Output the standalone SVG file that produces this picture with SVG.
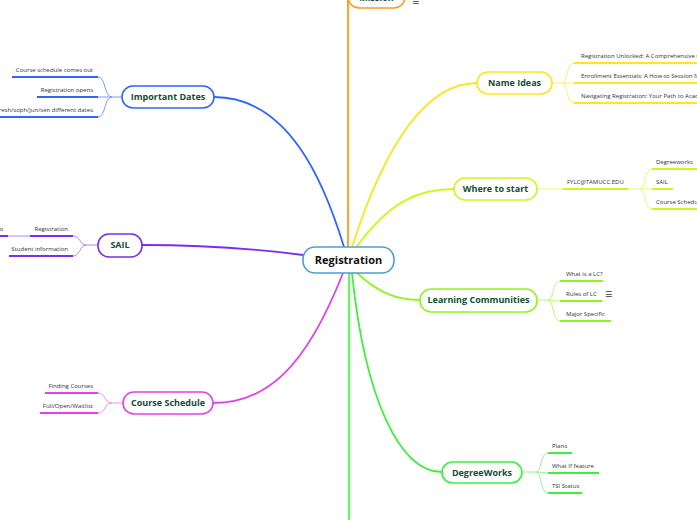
<svg xmlns="http://www.w3.org/2000/svg" width="697" height="520" viewBox="0 0 697 520">
<style>
text{font-family:"Open Sans","Noto Sans","DejaVu Sans",sans-serif}
.node{fill:#fff;stroke-width:1.6}
.lbl{font-size:9px;font-weight:bold;fill:#124d37;text-anchor:middle}
.sub{font-size:6px;fill:#333}
.r{text-anchor:end}
.main{fill:none;stroke-width:1.8}
.thin{fill:none;stroke-width:0.9}
.ul{fill:none;stroke-width:1.8}
</style>
<rect width="697" height="520" fill="#fff"/>
<g id="connectors">
  <path class="main" stroke="#ff9a1a" d="M348,247 L348,0"/>
  <path class="main" stroke="#44ff44" d="M349,273 L349,520"/>
  <path class="main" stroke="#2e66ff" d="M344,247 C325,185 290,97 214,97"/>
  <path class="main" stroke="#ffe41f" d="M352,247 C380,160 420,83 477,83"/>
  <path class="main" stroke="#d2f51e" d="M355,249 C390,200 420,189 454,189"/>
  <path class="main" stroke="#8ef51e" d="M356,272 C380,295 400,300 420,300"/>
  <path class="main" stroke="#3ef03e" d="M352,273 C365,400 400,472 442,472"/>
  <path class="main" stroke="#7a2cf5" d="M303,255 C250,248 200,245 142,245"/>
  <path class="main" stroke="#e63ef0" d="M343,273 C305,370 265,403 213,403"/>
  <path class="thin" stroke="#6e94ff" d="M98,77 C106,77 104,97 112,97 L122,97 M98,97 L112,97 M98,117 C106,117 104,97 112,97"/>
  <path class="ul" stroke="#2e66ff" d="M12,77 L98,77 M37,97 L98,97 M0,117 L98,117"/>
  <path class="thin" stroke="#a47bf7" d="M73,236 C80,236 80,245 86,245 L98,245 M73,256 C80,256 80,245 86,245 M8,236 L30,236"/>
  <path class="ul" stroke="#7a2cf5" d="M30,236 L73,236 M9,256 L73,256 M0,236 L8,236"/>
  <path class="thin" stroke="#ee82f5" d="M98,393 C106,393 104,403 112,403 L123,403 M98,413 C106,413 104,403 112,403"/>
  <path class="ul" stroke="#e63ef0" d="M45,393 L98,393 M40,413 L98,413"/>
  <path class="thin" stroke="#ffec66" d="M552,83 L562,83 C568,83 566,63 574,63 M562,83 L574,83 M562,83 C568,83 566,103 574,103"/>
  <path class="ul" stroke="#ffe41f" d="M574,63 L697,63 M574,83 L697,83 M574,103 L697,103"/>
  <path class="thin" stroke="#e2fa6a" d="M537,189 L563,189 M628,189 L640,189 C646,189 644,169 652,169 M640,189 L652,189 M640,189 C646,189 644,209 652,209"/>
  <path class="ul" stroke="#d2f51e" d="M563,189 L628,189 M652,169 L697,169 M652,189 L673,189 M652,209 L697,209"/>
  <path class="thin" stroke="#b4f86a" d="M537,300 L548,300 C554,300 552,281 560,281 M548,300 L560,301 M548,300 C554,300 552,321 560,321"/>
  <path class="ul" stroke="#8ef51e" d="M560,281 L603,281 M560,301 L602,301 M560,321 L611,321"/>
  <path class="thin" stroke="#8af58a" d="M522,472 L536,472 C542,472 540,453 548,453 M536,472 L548,473 M536,472 C542,472 540,493 548,493"/>
  <path class="ul" stroke="#3ef03e" d="M548,453 L572,453 M548,473 L599,473 M548,493 L582,493"/>
</g>
<g id="mission">
  <rect class="node" x="348" y="-16" width="57" height="24" rx="11" stroke="#ff9a1a"/>
  <text class="lbl" x="376.5" y="1">Mission</text>
  <text x="412" y="4" font-size="8" fill="#124d37" font-family="DejaVu Sans">☰</text>
</g>
<g id="registration">
  <rect class="node" x="303" y="247" width="91" height="26" rx="12" stroke="#4a9ed6" fill="#fbfdff"/>
  <text x="348.5" y="264" font-size="11" font-weight="bold" fill="#111" text-anchor="middle">Registration</text>
</g>
<g id="important-dates">
  <rect class="node" x="122" y="86" width="92" height="22" rx="11" stroke="#2e66ff"/>
  <text class="lbl" x="168" y="100">Important Dates</text>
  <text class="sub r" x="93" y="72">Course schedule comes out</text>
  <text class="sub r" x="93" y="92">Registration opens</text>
  <text class="sub r" x="93" y="112">Fresh/soph/jun/sen different dates</text>
</g>
<g id="sail">
  <rect class="node" x="98" y="234" width="44" height="23" rx="11" stroke="#7a2cf5"/>
  <text class="lbl" x="120" y="248">SAIL</text>
  <text class="sub r" x="68" y="231">Registration</text>
  <text class="sub r" x="3" y="231">o</text>
  <text class="sub r" x="68" y="251">Student information</text>
</g>
<g id="course-schedule">
  <rect class="node" x="123" y="392" width="90" height="22" rx="11" stroke="#e63ef0"/>
  <text class="lbl" x="168" y="406">Course Schedule</text>
  <text class="sub r" x="93" y="388">Finding Courses</text>
  <text class="sub r" x="93" y="408">Full/Open/Waitlist</text>
</g>
<g id="name-ideas">
  <rect class="node" x="477" y="72" width="75" height="22" rx="11" stroke="#ffe41f"/>
  <text class="lbl" x="514.5" y="86">Name Ideas</text>
  <text class="sub" x="581" y="58">Registration Unlocked: A Comprehensive Guide</text>
  <text class="sub" x="581" y="78">Enrollment Essentials: A How-to Session for</text>
  <text class="sub" x="581" y="98">Navigating Registration: Your Path to Academic</text>
</g>
<g id="where-to-start">
  <rect class="node" x="454" y="178" width="83" height="22" rx="11" stroke="#d2f51e"/>
  <text class="lbl" x="495.5" y="192">Where to start</text>
  <text class="sub" x="567" y="184">FYLC@TAMUCC.EDU</text>
  <text class="sub" x="656" y="164">Degreeworks</text>
  <text class="sub" x="656" y="184">SAIL</text>
  <text class="sub" x="656" y="204">Course Schedule</text>
</g>
<g id="learning-communities">
  <rect class="node" x="420" y="289" width="117" height="23" rx="11" stroke="#8ef51e"/>
  <text class="lbl" x="478.5" y="303">Learning Communities</text>
  <text class="sub" x="566" y="276">What is a LC?</text>
  <text class="sub" x="566" y="296">Rules of LC</text>
  <text x="605" y="297" font-size="8" fill="#333" font-family="DejaVu Sans">☰</text>
  <text class="sub" x="566" y="316">Major Specific</text>
</g>
<g id="degreeworks">
  <rect class="node" x="442" y="462" width="80" height="21" rx="10.5" stroke="#3ef03e"/>
  <text class="lbl" x="482" y="475.5">DegreeWorks</text>
  <text class="sub" x="552" y="448">Plans</text>
  <text class="sub" x="552" y="468">What If feature</text>
  <text class="sub" x="552" y="488">TSI Status</text>
</g>
</svg>
